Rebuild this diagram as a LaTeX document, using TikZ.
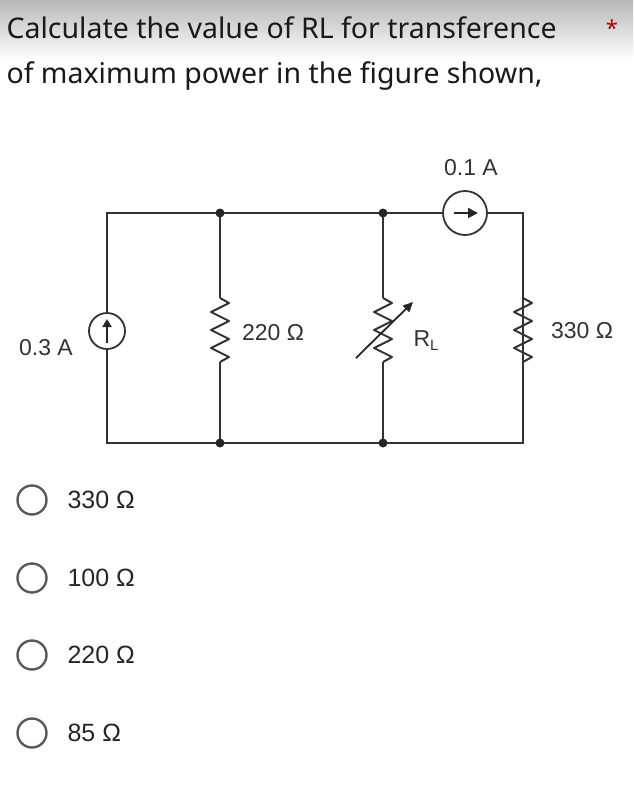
\documentclass[tikz,border=0pt]{standalone}
\usepackage{fontspec}
\setmainfont{Noto Sans}
\newfontfamily\arialf{Liberation Sans}
\usetikzlibrary{arrows.meta}
\begin{document}
\begin{tikzpicture}[x=1pt,y=-1pt,
 wire/.style={line width=2pt,draw=black!80},
 res/.style={line width=2pt,draw=black!80,line join=round},
 radio/.style={line width=2.4pt,draw=black!65},
 lbl/.style={font=\arialf\fontsize{23}{26}\selectfont,text=black!80},
 opt/.style={font=\arialf\fontsize{25}{28}\selectfont,text=black!85,anchor=west}]
\useasboundingbox (0,0) rectangle (633,793);
\shade[top color=black!28,bottom color=white] (0,0) rectangle (633,60);
\node[anchor=west,font=\fontsize{28.5}{30}\selectfont,text=black!90] (t1) at (3,28) {Calculate the value of RL for transference};
\node[anchor=west,font=\fontsize{28.5}{30}\selectfont,text=black!90] (t2) at (3,76) {of maximum power in the figure shown,};
\node[text=red!70!black,font=\fontsize{22}{22}\selectfont] (star) at (612,28) {*};
\coordinate (A) at (107,213); \coordinate (B) at (220,213); \coordinate (C) at (383,213); \coordinate (D) at (523,213);
\coordinate (E) at (107,443); \coordinate (F) at (220,443); \coordinate (G) at (383,443); \coordinate (H) at (523,443);
\node[circle,draw=black!80,line width=1.8pt,minimum size=36pt,inner sep=0] (S1) at (107,331) {};
\node[circle,draw=black!80,line width=1.8pt,minimum size=44pt,inner sep=0] (S2) at (465,213) {};
\draw[wire] (S1.north) -- (A) -- (S2.west);
\draw[wire] (S2.east) -- (D) -- (H) -- (E) -- (S1.south);
\draw[line width=2pt,-{Triangle[length=8pt,width=9pt]},black!85] (107,343) -- (107,319);
\draw[line width=2pt,-{Triangle[length=10pt,width=10pt]},black!85] (454,213) -- (478,213);
\foreach \x in {220,383,523}{
 \draw[wire] (\x,213) -- (\x,298);
 \draw[wire] (\x,362) -- (\x,443);
 \draw[res] (\x,298) -- (\x+9,303) -- (\x-9,312) -- (\x+9,321) -- (\x-9,330) -- (\x+9,339) -- (\x-9,348) -- (\x+9,357) -- (\x,362);
}
\draw[line width=1.8pt,-{Triangle[length=10pt,width=9pt]},black!85] (356,358) -- (413,302);
\foreach \p in {B,C,F,G} \fill[black!85] (\p) circle (4.5);
\node[lbl] (l1) at (471,168) {0.1 A};
\node[lbl] (l2) at (273,333) {220 Ω};
\node[lbl] (l3) at (582,331) {330 Ω};
\node[lbl] (l4) at (46,348) {0.3 A};
\node[lbl] (l5) at (426,341) {R\raisebox{-4pt}{\fontsize{15}{15}\selectfont L}};
\foreach \y/\t [count=\i] in {500/330 Ω,578/100 Ω,655/220 Ω,733/85 Ω}{
 \draw[radio] (32,\y) circle (14.5);
 \node[opt] (o\i) at (64,\y) {\t};
}
\end{tikzpicture}
\end{document}
